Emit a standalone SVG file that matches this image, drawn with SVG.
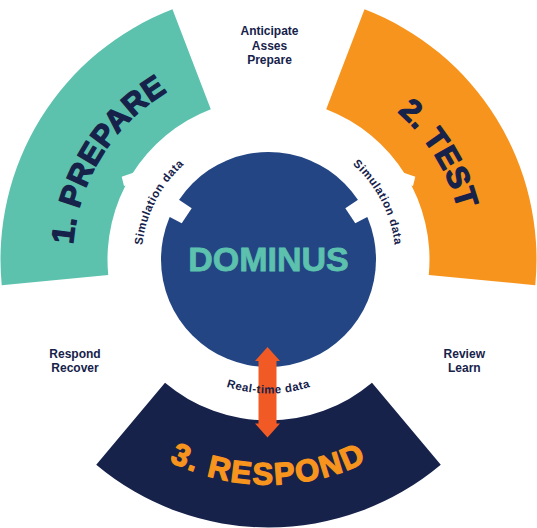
<svg xmlns="http://www.w3.org/2000/svg" width="537" height="528" viewBox="0 0 537 528">
<style>
.lbl{font-family:"Liberation Sans",Arial,sans-serif;font-weight:bold;fill:#16224A;}
.side{font-size:12px;text-anchor:middle;}
.big{font-size:31px;letter-spacing:0.5px;stroke:#16224A;stroke-width:1.3px;stroke-linejoin:round;}
.small{font-size:11.5px;letter-spacing:0.5px;}
.notch{fill:#FFFFFF;}
</style>
<defs>
<path id="pPrep" d="M 73.40 278.29 A 196 196 0 0 1 198.26 76.52"/>
<path id="pTest" d="M 338.74 76.52 A 196 196 0 0 1 463.60 278.29"/>
<path id="pResp" d="M 96.14 404.13 A 225 225 0 0 0 440.86 404.13"/>
<path id="pSimL" d="M 149.16 302.94 A 127 127 0 0 1 235.63 136.83"/>
<path id="pSimR" d="M 301.37 136.83 A 127 127 0 0 1 387.84 302.94"/>
<path id="pReal" d="M 152.45 326.5 A 134 134 0 0 0 384.55 326.5"/>
</defs>
<rect width="537" height="528" fill="#FFFFFF"/>
<g id="node-prepare">
<path d="M 1.73 285.19 A 268 268 0 0 1 172.46 9.30 L 210.80 109.19 A 161 161 0 0 0 108.24 274.93 Z" fill="#5CC2AE"/>
<text class="lbl big"><textPath href="#pPrep" startOffset="50%" text-anchor="middle">1. PREPARE</textPath></text>
</g>
<g id="node-test">
<path d="M 364.54 9.30 A 268 268 0 0 1 535.27 285.19 L 428.76 274.93 A 161 161 0 0 0 326.20 109.19 Z" fill="#F7941E"/>
<text class="lbl big"><textPath href="#pTest" startOffset="50%" text-anchor="middle">2. TEST</textPath></text>
</g>
<g id="node-respond">
<path d="M 440.77 464.80 A 268 268 0 0 1 96.23 464.80 L 165.01 382.83 A 161 161 0 0 0 371.99 382.83 Z" fill="#16224A"/>
<text class="lbl big" style="fill:#F7941E;stroke:#F7941E;letter-spacing:1.8px"><textPath href="#pResp" startOffset="50%" text-anchor="middle">3. RESPOND</textPath></text>
</g>
<g id="node-dominus">
<circle cx="268.5" cy="259.5" r="107.5" fill="#234583"/>
<text x="268.5" y="271" text-anchor="middle" class="lbl" style="fill:#5CC2AE;stroke:#5CC2AE;stroke-width:0.8px;font-size:34px">DOMINUS</text>
</g>
<g id="connectors">
<polygon class="notch" points="175.8,198.1 179.3,200 191.7,208.3 181.7,223.3 169.3,216.7 165.8,214.8"/>
<polygon class="notch" points="361.2,198.1 357.7,200 345.3,208.3 355.3,223.3 367.7,216.7 371.2,214.8"/>
<polygon class="notch" points="134,172.5 121.7,176.7 124,186 135,183"/>
<polygon class="notch" points="403,172.5 415.3,176.7 413,186 402,183"/>
<text class="lbl small"><textPath href="#pSimL" startOffset="50%" text-anchor="middle">Simulation data</textPath></text>
<text class="lbl small"><textPath href="#pSimR" startOffset="50%" text-anchor="middle">Simulation data</textPath></text>
<polygon points="267.5,347 280,361 276.5,361 276.5,423.5 280,423.5 267.5,437.5 255,423.5 258.5,423.5 258.5,361 255,361" fill="#F15A24"/>
<text class="lbl small"><textPath href="#pReal" startOffset="50%" text-anchor="middle">Real-time data</textPath></text>
</g>
<g id="phase-labels">
<text class="lbl side" x="269.5" y="35">Anticipate</text>
<text class="lbl side" x="269.5" y="49.5">Asses</text>
<text class="lbl side" x="269.5" y="64">Prepare</text>
<text class="lbl side" x="75" y="358.3">Respond</text>
<text class="lbl side" x="75" y="371.7">Recover</text>
<text class="lbl side" x="464.3" y="358.3">Review</text>
<text class="lbl side" x="464.3" y="371.7">Learn</text>
</g>
</svg>
